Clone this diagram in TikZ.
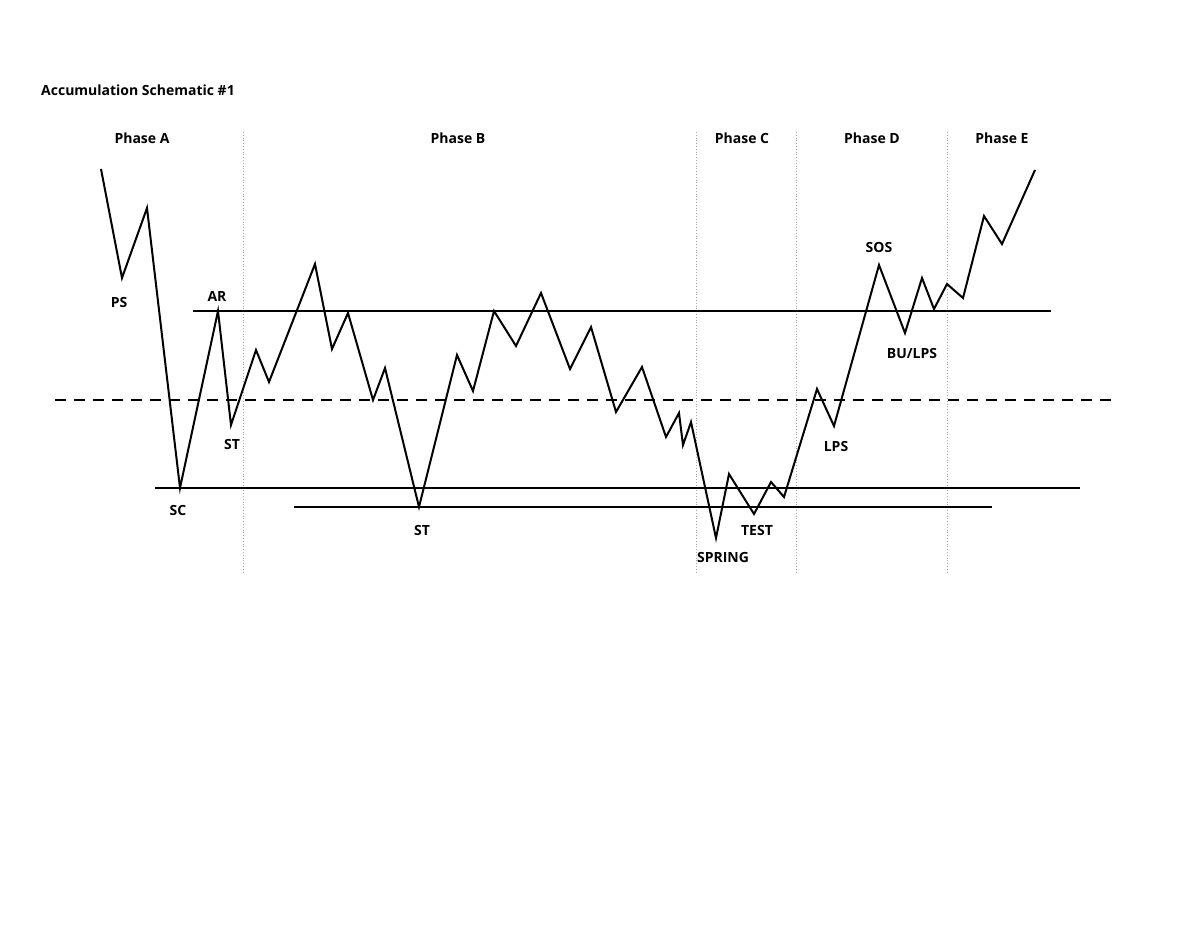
\documentclass[tikz,border=0pt]{standalone}
\usepackage{fontspec}
\setmainfont{Open Sans}
\usetikzlibrary{positioning}

\begin{document}
\begin{tikzpicture}[x=1pt, y=-1pt,
		lbl/.style = {inner sep=0pt, font=\fontsize{14}{16}\selectfont\bfseries},
		price/.style = {line width=2pt, line join=miter},
		level/.style = {line width=1.8pt},
		divider/.style = {gray!70, line width=0.8pt, dotted},
	]
	\useasboundingbox (0,0) rectangle (1200,927);
	\node [lbl, anchor=west] (title) at (41,90) {Accumulation Schematic \#1};
	% phases
	\foreach \name/\x in {A/142, B/458, C/742, D/872, E/1002}
		\node [lbl] (phase\name) at (\x,138) {Phase \name};
	\foreach \x in {243, 696, 796, 947}
		\draw [divider] (\x,132) -- (\x,572);
	% levels
	\draw [level] (193,311) -- (1051,311);
	\draw [level, dash pattern=on 11pt off 8pt] (55,400) -- (1116,400);
	\draw [level] (155,488) -- (1080,488);
	\draw [level] (294,507) -- (992,507);
	% price
	\draw [price] (101,169) -- (122,278) coordinate (ps) -- (147,208) -- (180,488) coordinate (sc)
		-- (218,311) coordinate (ar) -- (231,425) coordinate (st1) -- (256,350) -- (269,382)
		-- (315,264) -- (332,349) -- (348,313) -- (373,400) -- (385,368) -- (419,507) coordinate (st2)
		-- (457,355) -- (473,391) -- (494,311) -- (516,346) -- (541,293) -- (570,369)
		-- (591,327) -- (616,412) -- (642,367) -- (666,437) -- (679,413) -- (683,445)
		-- (691,422) -- (716,538) coordinate (spring) -- (729,474) -- (754,514) coordinate (test)
		-- (771,482) -- (784,497) -- (817,389) -- (834,426) coordinate (lps) -- (879,265) coordinate (sos)
		-- (905,333) coordinate (bu) -- (922,278) -- (934,309) -- (947,284) -- (963,298)
		-- (984,216) -- (1002,244) -- (1035,170);
	% events
	\node [lbl] (psL) at (119,302) {PS};
	\node [lbl] (arL) at (217,296) {AR};
	\node [lbl] (st1L) at (232,444) {ST};
	\node [lbl] (scL) at (178,510) {SC};
	\node [lbl] (st2L) at (422,530) {ST};
	\node [lbl] (springL) at (723,557) {SPRING};
	\node [lbl] (testL) at (757,530) {TEST};
	\node [lbl] (lpsL) at (836,446) {LPS};
	\node [lbl] (sosL) at (879,247) {SOS};
	\node [lbl] (buL) at (912,353) {BU/LPS};
\end{tikzpicture}
\end{document}
